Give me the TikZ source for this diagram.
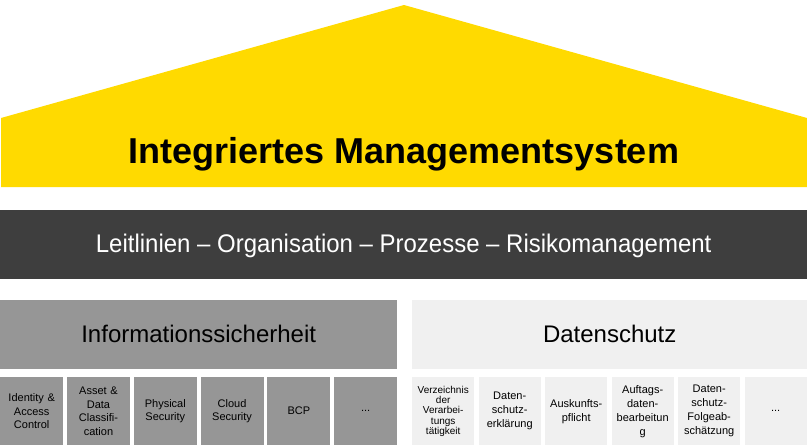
\documentclass[tikz,border=0pt]{standalone}
\usepackage{fontspec}
\setmainfont{Liberation Sans}
\newfontfamily\narrowfont[FakeStretch=0.94]{Liberation Sans}
\usepackage{tikz}
\usetikzlibrary{positioning}
\definecolor{imsyellow}{RGB}{255,218,0}
\definecolor{imsdark}{RGB}{62,62,62}
\definecolor{imsgray}{RGB}{150,150,150}
\definecolor{imslight}{RGB}{240,240,240}
\tikzset{
  bar/.style={rectangle, inner sep=0pt, anchor=north west,
    minimum height=69pt, text height=15pt, text depth=0pt,
    font=\fontsize{24}{28}\selectfont},
  isbox/.style={rectangle, fill=imsgray, inner sep=0pt, anchor=north west,
    minimum width=63pt, minimum height=68pt, text width=62pt, align=center,
    font=\fontsize{11}{13.7}\selectfont},
  dsbox/.style={rectangle, fill=imslight, inner sep=0pt, anchor=north west,
    minimum width=62pt, minimum height=68pt, text width=62pt, align=center,
    font=\fontsize{11}{14}\selectfont},
  smalltext/.style={font=\fontsize{10}{10.3}\selectfont}
}

\begin{document}
\begin{tikzpicture}[x=1pt, y=-1pt]
  \useasboundingbox (0,0) rectangle (807,445);
  % Roof
  \fill[imsyellow] (1,187) -- (1,118) -- (404,5) -- (807,118) -- (807,187) -- cycle;
  \node[anchor=base, inner sep=0pt, font=\bfseries\fontsize{36}{40}\selectfont] (ims) at (404,163) {Integriertes Managementsystem};

  % Leitlinien bar
  \node[bar, fill=imsdark, text=white, minimum width=807pt,
    font=\narrowfont\fontsize{25.5}{30}\selectfont] (leit) at (0,210) {Leitlinien – Organisation – Prozesse – Risikomanagement};

  % Columns
  \node[bar, fill=imsgray, minimum width=397pt] (infosec) at (0,300) {Informationssicherheit};
  \node[bar, fill=imslight, minimum width=395pt] (dsgvo) at (412,300) {Datenschutz};

  % Informationssicherheit topics
  \foreach \i/\txt in {0/{Identity \&\\Access\\Control}, 1/{Asset \&\\Data\\Classifi-\\cation},
      2/{Physical\\Security}, 3/{Cloud\\Security}, 4/{BCP}, 5/{...}} {
    \node[isbox] (is\i) at (\i*66.8,377) {\txt};
  }

  % Datenschutz topics
  \node[dsbox, smalltext] (ds0) at (412,377) {Verzeichnis\\der\\Verarbei-\\tungs\\tätigkeit};
  \foreach \i/\txt in {1/{Daten-\\schutz-\\erklärung}, 2/{Auskunfts-\\pflicht},
      3/{Auftags-\\daten-\\bearbeitun\\g}, 4/{Daten-\\schutz-\\Folgeab-\\schätzung}, 5/{...}} {
    \node[dsbox] (ds\i) at (412+\i*66.5,377) {\txt};
  }
\end{tikzpicture}
\end{document}
